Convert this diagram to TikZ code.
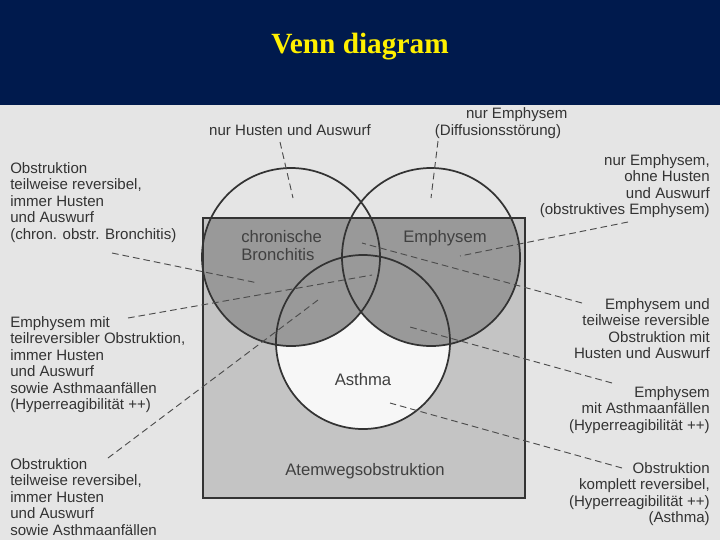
\documentclass[tikz,border=0pt]{standalone}
\usepackage{fontspec}
\setmainfont{Liberation Sans}
\newfontfamily\titlefont{Liberation Serif}
\begin{document}
\begin{tikzpicture}[x=0.75pt,y=-0.75pt,
  lbl/.style={text=black!80,font=\fontsize{11.3}{12.4}\selectfont,inner sep=0pt},
  inlbl/.style={text=black!75,font=\fontsize{12.5}{13.5}\selectfont,inner sep=0pt},
  lead/.style={draw=black!70,dashed,dash pattern=on 5pt off 3pt,line width=0.7pt},
  ring/.style={draw=black!80,line width=1.3pt}]
\useasboundingbox (0,0) rectangle (720,540);
\fill[black!10] (0,0) rectangle (720,540);
\fill[fill={rgb,255:red,0;green,26;blue,77}] (0,0) rectangle (720,105);
\node[font=\titlefont\bfseries\fontsize{22}{24}\selectfont,text={rgb,255:red,255;green,240;blue,0}] (title) at (360,47) {Venn diagram};
% regions
\fill[black!23] (203,218) rectangle (525,498);
\begin{scope}
\clip (203,218) rectangle (525,498);
\fill[white!97!black] (363,342) circle[radius=87];
\fill[black!40] (291,257) circle[radius=89];
\fill[black!40] (431,257) circle[radius=89];
\end{scope}
\draw[ring] (203,218) rectangle (525,498);
\draw[ring] (291,257) circle[radius=89];
\draw[ring] (431,257) circle[radius=89];
\draw[ring] (363,342) circle[radius=87];
% inner labels
\node[inlbl,align=left,anchor=north west] (cb) at (241,230) {chronische\\Bronchitis};
\node[inlbl] (em) at (445,238) {Emphysem};
\node[inlbl] (as) at (363,380) {Asthma};
\node[inlbl] (ao) at (365,471) {Atemwegsobstruktion};
% outer labels
\node[lbl] (t1) at (290,130) {nur Husten und Auswurf};
\node[lbl,align=center] (t2) at (498,123) {\hspace*{28pt}nur Emphysem\\(Diffusionsstörung)};
\node[lbl,align=left,anchor=north west] (l1) at (10,162) {Obstruktion\\teilweise reversibel,\\immer Husten\\und Auswurf\\(chron. obstr. Bronchitis)};
\node[lbl,align=left,anchor=north west] (l2) at (10,316) {Emphysem mit\\teilreversibler Obstruktion,\\immer Husten\\und Auswurf\\sowie Asthmaanfällen\\(Hyperreagibilität ++)};
\node[lbl,align=left,anchor=north west] (l3) at (10,458) {Obstruktion\\teilweise reversibel,\\immer Husten\\und Auswurf\\sowie Asthmaanfällen};
\node[lbl,align=right,anchor=north east] (r1) at (710,154) {nur Emphysem,\\ohne Husten\\und Auswurf\\(obstruktives Emphysem)};
\node[lbl,align=right,anchor=north east] (r2) at (710,298) {Emphysem und\\teilweise reversible\\Obstruktion mit\\Husten und Auswurf};
\node[lbl,align=right,anchor=north east] (r3) at (710,386) {Emphysem\\mit Asthmaanfällen\\(Hyperreagibilität ++)};
\node[lbl,align=right,anchor=north east] (r4) at (710,462) {Obstruktion\\komplett reversibel,\\(Hyperreagibilität ++)\\(Asthma)};
% leader ends
\coordinate (a1) at (280,142); \coordinate (b1) at (293,198);
\coordinate (a2) at (438,141); \coordinate (b2) at (431,198);
\coordinate (a3) at (112,253); \coordinate (b3) at (258,283);
\coordinate (a4) at (128,318); \coordinate (b4) at (372,275);
\coordinate (a5) at (628,222); \coordinate (b5) at (460,256);
\coordinate (a6) at (582,303); \coordinate (b6) at (362,243);
\coordinate (a7) at (612,383); \coordinate (b7) at (410,327);
\coordinate (a8) at (622,468); \coordinate (b8) at (390,403);
\coordinate (a9) at (108,458); \coordinate (b9) at (318,300);
\foreach \i in {1,...,9} {\draw[lead] (a\i) -- (b\i);}
\end{tikzpicture}
\end{document}
